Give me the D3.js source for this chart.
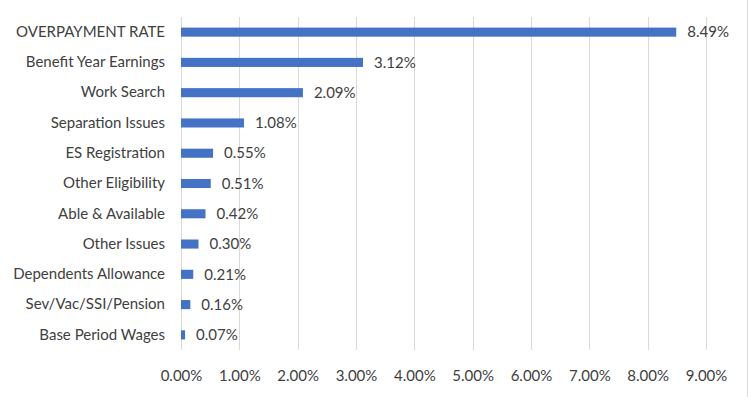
<!DOCTYPE html>
<html>
<head>
<meta charset="utf-8">
<script src="https://cdn.jsdelivr.net/npm/d3@7"></script>
<style>
  body { margin: 0; background: #fff; }
  svg text { font-family: Lato, "Open Sans", sans-serif; fill: #404040; }
</style>
</head>
<body>
<svg id="chart" width="750" height="397"></svg>
<script>
// categories top to bottom, values in percent
const categories = ["OVERPAYMENT RATE", "Benefit Year Earnings", "Work Search", "Separation Issues",
  "ES Registration", "Other Eligibility", "Able & Available", "Other Issues",
  "Dependents Allowance", "Sev/Vac/SSI/Pension", "Base Period Wages"];
const values = [8.49, 3.12, 2.09, 1.08, 0.55, 0.51, 0.42, 0.30, 0.21, 0.16, 0.07];
const ticks = [0, 1, 2, 3, 4, 5, 6, 7, 8, 9];

const svg = d3.select("#chart");
const margin = { top: 17, right: 44, bottom: 47, left: 181 };
const width = 750, height = 397;

const x = d3.scaleLinear().domain([0, 9]).range([margin.left, width - margin.right]);
const y = d3.scaleBand().domain(categories).range([margin.top, height - margin.bottom]).paddingInner(0.7).paddingOuter(0.35);

// chart border on the right
svg.append("line")
  .attr("x1", 747.5).attr("x2", 747.5).attr("y1", 0).attr("y2", height)
  .attr("stroke", "#d9d9d9");

// gridlines
svg.append("g").selectAll("line")
  .data(ticks)
  .join("line")
  .attr("x1", d => Math.round(x(d)) + 0.5)
  .attr("x2", d => Math.round(x(d)) + 0.5)
  .attr("y1", margin.top)
  .attr("y2", height - margin.bottom)
  .attr("stroke", "#d9d9d9");

// x axis labels
svg.append("g")
  .attr("transform", `translate(0, ${height - margin.bottom})`)
  .call(d3.axisBottom(x).tickValues(ticks).tickFormat(d => d.toFixed(2) + "%").tickSize(0).tickPadding(20))
  .call(g => g.select(".domain").remove())
  .selectAll("text")
  .attr("font-size", 15)
  .style("font-family", "Lato, 'Open Sans', sans-serif")
  .attr("fill", "#595959");

// y axis labels
svg.append("g")
  .attr("transform", `translate(${margin.left - 16}, 0)`)
  .call(d3.axisLeft(y).tickSize(0).tickPadding(0))
  .call(g => g.select(".domain").remove())
  .selectAll("text")
  .attr("font-size", 15)
  .style("font-family", "Lato, 'Open Sans', sans-serif")
  .attr("fill", "#404040");

// bars
svg.append("g").selectAll("rect")
  .data(values)
  .join("rect")
  .attr("x", x(0))
  .attr("y", (d, i) => y(categories[i]))
  .attr("width", d => x(d) - x(0))
  .attr("height", y.bandwidth())
  .attr("fill", "#4472c4");

// value labels
svg.append("g").selectAll("text")
  .data(values)
  .join("text")
  .attr("x", d => x(d) + 11)
  .attr("y", (d, i) => y(categories[i]) + y.bandwidth() / 2)
  .attr("dy", "0.35em")
  .attr("font-size", 15)
  .attr("fill", "#404040")
  .text(d => d.toFixed(2) + "%");
</script>
</body>
</html>
